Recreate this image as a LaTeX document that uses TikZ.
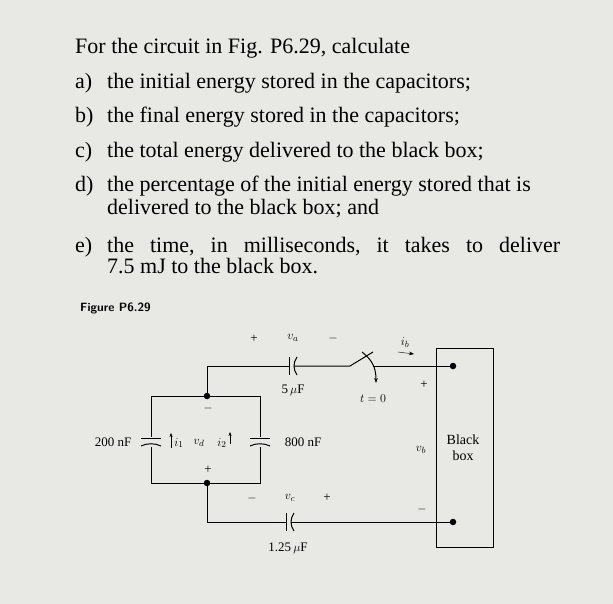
\documentclass[tikz,border=0pt]{standalone}
\usepackage{fontspec}
\setmainfont{Liberation Serif}
\usetikzlibrary{arrows.meta}
\begin{document}
\begin{tikzpicture}[x=1pt,y=-1pt,
  txt/.style={anchor=west,inner sep=0,font=\fontsize{22}{26}\selectfont},
  lbl/.style={inner sep=0,font=\fontsize{13}{15}\selectfont},
  w/.style={line width=1pt},
  dot/.style={circle,fill,inner sep=2.3pt}]
\fill[fill={rgb,255:red,232;green,232;blue,229}] (0,0) rectangle (613,604);
\useasboundingbox (0,0) rectangle (613,604);
% text
\node[txt] (t0) at (75,48) {For the circuit in Fig. P6.29, calculate};
\node[txt] (ta) at (75,83) {a)};
\node[txt] (ta2) at (107,83) {the initial energy stored in the capacitors;};
\node[txt] (tb) at (75,117) {b)};
\node[txt] (tb2) at (107,117) {the final energy stored in the capacitors;};
\node[txt] (tc) at (75,152) {c)};
\node[txt] (tc2) at (107,152) {the total energy delivered to the black box;};
\node[txt] (td) at (75,186) {d)};
\node[txt] (td2) at (107,186) {the percentage of the initial energy stored that is};
\node[txt] (td3) at (107,209) {delivered to the black box; and};
\node[txt] (te) at (75,247) {e)};
\node[txt,text width=453,align=justify] (te2) at (107,247) {the\hfill time,\hfill in\hfill milliseconds,\hfill it\hfill takes\hfill to\hfill deliver};
\node[txt] (te3) at (107,266) {7.5 mJ to the black box.};
\node[anchor=west,inner sep=0,font=\sffamily\bfseries\fontsize{12}{14}\selectfont] (fig) at (80,308) {Figure P6.29};
% nodes
\node[dot] (dtop) at (207,396) {};
\node[dot] (dbot) at (207,483) {};
\node[dot] (bt) at (453,366) {};
\node[dot] (bb) at (453,522) {};
\node[draw,w,minimum width=57,minimum height=199,inner sep=0] (box) at (464.5,447.5) {};
\node[lbl,font=\fontsize{14}{16}\selectfont,align=center] (bl) at (463,448) {Black\\box};
% top branch
\draw[w] (dtop) -- (207,366) -- (289,366);
\draw[w] (289,357) -- (289,375);
\draw[w] (297,357) .. controls (293,363) and (293,369) .. (297,375);
\draw[w] (294,366) -- (350,366) -- (373,352);
\draw[w] (373,366) -- (bt);
\draw[w,-{Stealth[length=5pt]}] (362,352) .. controls (372,360) and (376,367) .. (376,383);
% inner rectangle
\draw[w] (151,396) rectangle (260,483);
\fill[fill={rgb,255:red,232;green,232;blue,229}] (141,437) rectangle (161,447);
\fill[fill={rgb,255:red,232;green,232;blue,229}] (250,437) rectangle (270,447);
\draw[w] (141,438) -- (161,438);
\draw[w] (141,446) .. controls (147,443) and (155,443) .. (161,446);
\draw[w] (250,438) -- (270,438);
\draw[w] (250,446) .. controls (256,443) and (264,443) .. (270,446);
% bottom branch
\draw[w] (dbot) -- (207,522) -- (286,522);
\draw[w] (286,513) -- (286,531);
\draw[w] (294,513) .. controls (290,519) and (290,525) .. (294,531);
\draw[w] (291,522) -- (bb);
% labels
\node[lbl] at (254,339) {+};
\node[lbl] at (293,338) {$v_a$};
\node[lbl] at (333,338) {$-$};
\node[lbl] at (293,390) {5\,$\mu$F};
\node[lbl] at (373,399) {$t=0$};
\node[lbl] at (405,343) {$i_b$};
\draw[-{Stealth[length=5pt]}] (398,352) -- (414,354);
\node[lbl] at (424,385) {+};
\node[lbl] at (421,450) {$v_b$};
\node[lbl] at (422,509) {$-$};
\node[lbl] at (208,408) {$-$};
\node[lbl] at (208,470) {+};
\node[lbl] at (113,442) {200 nF};
\node[lbl] at (303,442) {800 nF};
\draw[-{Stealth[length=4pt]}] (171,448) -- (171,433);
\node[lbl] at (179,443) {$i_1$};
\node[lbl] at (199,443) {$v_d$};
\node[lbl] at (222,443) {$i_2$};
\draw[-{Stealth[length=4pt]}] (230,444) -- (230,432);
\node[lbl] at (252,498) {$-$};
\node[lbl] at (290,498) {$v_c$};
\node[lbl] at (327,498) {+};
\node[lbl] at (288,548) {1.25\,$\mu$F};
\end{tikzpicture}
\end{document}
